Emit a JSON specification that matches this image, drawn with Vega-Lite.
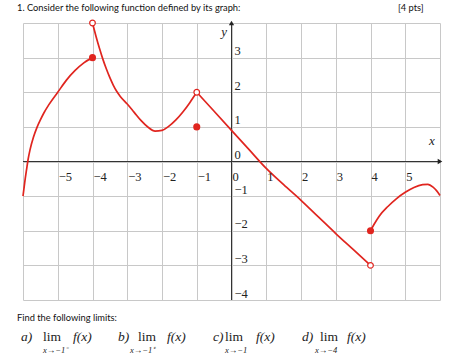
{
  "$schema": "https://vega.github.io/schema/vega-lite/v6.json",
  "width": 417,
  "height": 277,
  "autosize": "none",
  "padding": {"left": 23, "top": 23, "right": 34, "bottom": 58},
  "background": "white",
  "config": {
    "view": {"stroke": null},
    "axis": {"grid": true, "gridColor": "#c8c8c8", "gridWidth": 1, "labels": false, "ticks": false, "domain": false, "title": null}
  },
  "encoding": {
    "x": {"field": "x", "type": "quantitative", "scale": {"domain": [-6, 6], "nice": false, "zero": false}, "axis": {"values": [-6, -5, -4, -3, -2, -1, 0, 1, 2, 3, 4, 5, 6]}},
    "y": {"field": "y", "type": "quantitative", "scale": {"domain": [-4, 4], "nice": false, "zero": false}, "axis": {"values": [-4, -3, -2, -1, 0, 1, 2, 3, 4]}}
  },
  "layer": [
    {
      "data": {"values": [{"x": -6, "x2": 6, "y": 0, "y2": 0}, {"x": 0, "x2": 0, "y": -4, "y2": 4}]},
      "mark": {"type": "rule", "color": "#333333", "strokeWidth": 1},
      "encoding": {"x2": {"field": "x2"}, "y2": {"field": "y2"}}
    },
    {
      "data": {"values": [{"x": 6, "y": 0}]},
      "mark": {"type": "point", "shape": "triangle-right", "filled": true, "color": "#222222", "size": 28, "opacity": 1}
    },
    {
      "data": {"values": [{"x": 0, "y": 4}]},
      "mark": {"type": "point", "shape": "triangle-up", "filled": true, "color": "#222222", "size": 28, "opacity": 1}
    },
    {
      "data": {"values": [
        {"s": "a", "x": -6, "y": -1}, {"s": "a", "x": -5.95, "y": -0.6}, {"s": "a", "x": -5.9, "y": -0.25}, {"s": "a", "x": -5.85, "y": 0.08}, {"s": "a", "x": -5.8, "y": 0.33}, {"s": "a", "x": -5.7, "y": 0.7}, {"s": "a", "x": -5.6, "y": 0.98}, {"s": "a", "x": -5.5, "y": 1.2}, {"s": "a", "x": -5.4, "y": 1.4}, {"s": "a", "x": -5.25, "y": 1.65}, {"s": "a", "x": -5, "y": 2}, {"s": "a", "x": -4.75, "y": 2.35}, {"s": "a", "x": -4.5, "y": 2.63}, {"s": "a", "x": -4.25, "y": 2.85}, {"s": "a", "x": -4, "y": 3},
        {"s": "b", "x": -4, "y": 4}, {"s": "b", "x": -3.9, "y": 3.62}, {"s": "b", "x": -3.8, "y": 3.27}, {"s": "b", "x": -3.7, "y": 2.95}, {"s": "b", "x": -3.6, "y": 2.67}, {"s": "b", "x": -3.5, "y": 2.42}, {"s": "b", "x": -3.4, "y": 2.2}, {"s": "b", "x": -3.3, "y": 2.02}, {"s": "b", "x": -3.2, "y": 1.88}, {"s": "b", "x": -3, "y": 1.66}, {"s": "b", "x": -2.8, "y": 1.42}, {"s": "b", "x": -2.6, "y": 1.18}, {"s": "b", "x": -2.4, "y": 0.99}, {"s": "b", "x": -2.2, "y": 0.88}, {"s": "b", "x": -2, "y": 0.9}, {"s": "b", "x": -1.8, "y": 1.02}, {"s": "b", "x": -1.6, "y": 1.2}, {"s": "b", "x": -1.4, "y": 1.43}, {"s": "b", "x": -1.2, "y": 1.7}, {"s": "b", "x": -1, "y": 2},
        {"s": "c", "x": -1, "y": 2}, {"s": "c", "x": -0.5, "y": 1.45}, {"s": "c", "x": 0, "y": 0.9}, {"s": "c", "x": 0.5, "y": 0.35}, {"s": "c", "x": 1, "y": -0.2}, {"s": "c", "x": 1.5, "y": -0.67}, {"s": "c", "x": 2, "y": -1.12}, {"s": "c", "x": 2.5, "y": -1.6}, {"s": "c", "x": 3, "y": -2.08}, {"s": "c", "x": 3.5, "y": -2.54}, {"s": "c", "x": 4, "y": -3},
        {"s": "d", "x": 4, "y": -2}, {"s": "d", "x": 4.1, "y": -1.82}, {"s": "d", "x": 4.25, "y": -1.58}, {"s": "d", "x": 4.5, "y": -1.3}, {"s": "d", "x": 4.75, "y": -1.07}, {"s": "d", "x": 5, "y": -0.89}, {"s": "d", "x": 5.25, "y": -0.75}, {"s": "d", "x": 5.5, "y": -0.67}, {"s": "d", "x": 5.65, "y": -0.66}, {"s": "d", "x": 5.8, "y": -0.74}, {"s": "d", "x": 5.9, "y": -0.84}, {"s": "d", "x": 6, "y": -0.98}
      ]},
      "mark": {"type": "line", "color": "#e0251f", "strokeWidth": 1.7, "interpolate": "monotone"},
      "encoding": {"detail": {"field": "s"}}
    },
    {
      "data": {"values": [{"x": -4, "y": 3}, {"x": -1, "y": 1}, {"x": 4, "y": -2}]},
      "mark": {"type": "point", "shape": "circle", "filled": true, "color": "#e0251f", "size": 50, "opacity": 1}
    },
    {
      "data": {"values": [{"x": -4, "y": 4}, {"x": -1, "y": 2}, {"x": 4, "y": -3}]},
      "mark": {"type": "point", "shape": "circle", "filled": false, "fill": "white", "fillOpacity": 1, "stroke": "#e0251f", "strokeWidth": 1.2, "size": 32, "opacity": 1}
    },
    {
      "data": {"values": [{"x": -5, "y": 0, "t": "−5"}, {"x": -4, "y": 0, "t": "−4"}, {"x": -3, "y": 0, "t": "−3"}, {"x": -2, "y": 0, "t": "−2"}, {"x": -1, "y": 0, "t": "−1"}, {"x": 0, "y": 0, "t": "0"}, {"x": 1, "y": 0, "t": "1"}, {"x": 2, "y": 0, "t": "2"}, {"x": 3, "y": 0, "t": "3"}, {"x": 4, "y": 0, "t": "4"}, {"x": 5, "y": 0, "t": "5"}]},
      "mark": {"type": "text", "align": "left", "baseline": "middle", "dx": 1, "dy": 15, "font": "Liberation Serif, serif", "fontSize": 12.5, "color": "#222222"},
      "encoding": {"text": {"field": "t"}}
    },
    {
      "data": {"values": [{"x": 0, "y": 3, "t": "3"}, {"x": 0, "y": 2, "t": "2"}, {"x": 0, "y": 1, "t": "1"}, {"x": 0, "y": 0, "t": "0"}, {"x": 0, "y": -1, "t": "−1"}, {"x": 0, "y": -2, "t": "−2"}, {"x": 0, "y": -3, "t": "−3"}, {"x": 0, "y": -4, "t": "−4"}]},
      "mark": {"type": "text", "align": "left", "baseline": "middle", "dx": 3, "dy": -6.5, "font": "Liberation Serif, serif", "fontSize": 12.5, "color": "#222222"},
      "encoding": {"text": {"field": "t"}}
    },
    {
      "data": {"values": [{"x": -0.21, "y": 3.74, "t": "y"}, {"x": 5.77, "y": 0.58, "t": "x"}]},
      "mark": {"type": "text", "align": "center", "baseline": "middle", "font": "Liberation Serif, serif", "fontStyle": "italic", "fontSize": 13, "color": "#222222"},
      "encoding": {"text": {"field": "t"}}
    },
    {
      "data": {"values": [{"x": -6.173, "y": 4.44, "t": "1. Consider the following function defined by its graph:"}, {"x": 4.79, "y": 4.44, "t": "[4 pts]"}, {"x": -6.173, "y": -4.53, "t": "Find the following limits:"}]},
      "mark": {"type": "text", "align": "left", "baseline": "middle", "font": "Lato", "fontSize": 9.3, "color": "#111111"},
      "encoding": {"text": {"field": "t"}}
    },
    {
      "data": {"values": [{"x": -6.058, "y": -5.078, "t": "a)"}, {"x": -3.266, "y": -5.078, "t": "b)"}, {"x": -0.532, "y": -5.078, "t": "c)"}, {"x": 2.029, "y": -5.078, "t": "d)"}, {"x": -4.561, "y": -5.078, "t": "f(x)"}, {"x": -1.856, "y": -5.078, "t": "f(x)"}, {"x": 0.705, "y": -5.078, "t": "f(x)"}, {"x": 3.324, "y": -5.078, "t": "f(x)"}]},
      "mark": {"type": "text", "align": "left", "baseline": "middle", "font": "Liberation Serif, serif", "fontStyle": "italic", "fontSize": 13.5, "color": "#222222"},
      "encoding": {"text": {"field": "t"}}
    },
    {
      "data": {"values": [{"x": -5.424, "y": -5.078, "t": "lim"}, {"x": -2.691, "y": -5.078, "t": "lim"}, {"x": -0.187, "y": -5.078, "t": "lim"}, {"x": 2.547, "y": -5.078, "t": "lim"}]},
      "mark": {"type": "text", "align": "left", "baseline": "middle", "font": "Liberation Serif, serif", "fontSize": 13.5, "color": "#222222"},
      "encoding": {"text": {"field": "t"}}
    },
    {
      "data": {"values": [{"x": -5.424, "y": -5.43, "t": "x→−1⁻"}, {"x": -2.921, "y": -5.43, "t": "x→−1⁺"}, {"x": -0.187, "y": -5.43, "t": "x→−1"}, {"x": 2.403, "y": -5.43, "t": "x→−4"}]},
      "mark": {"type": "text", "align": "left", "baseline": "middle", "font": "Liberation Serif, serif", "fontStyle": "italic", "fontSize": 8.5, "color": "#222222"},
      "encoding": {"text": {"field": "t"}}
    }
  ]
}
